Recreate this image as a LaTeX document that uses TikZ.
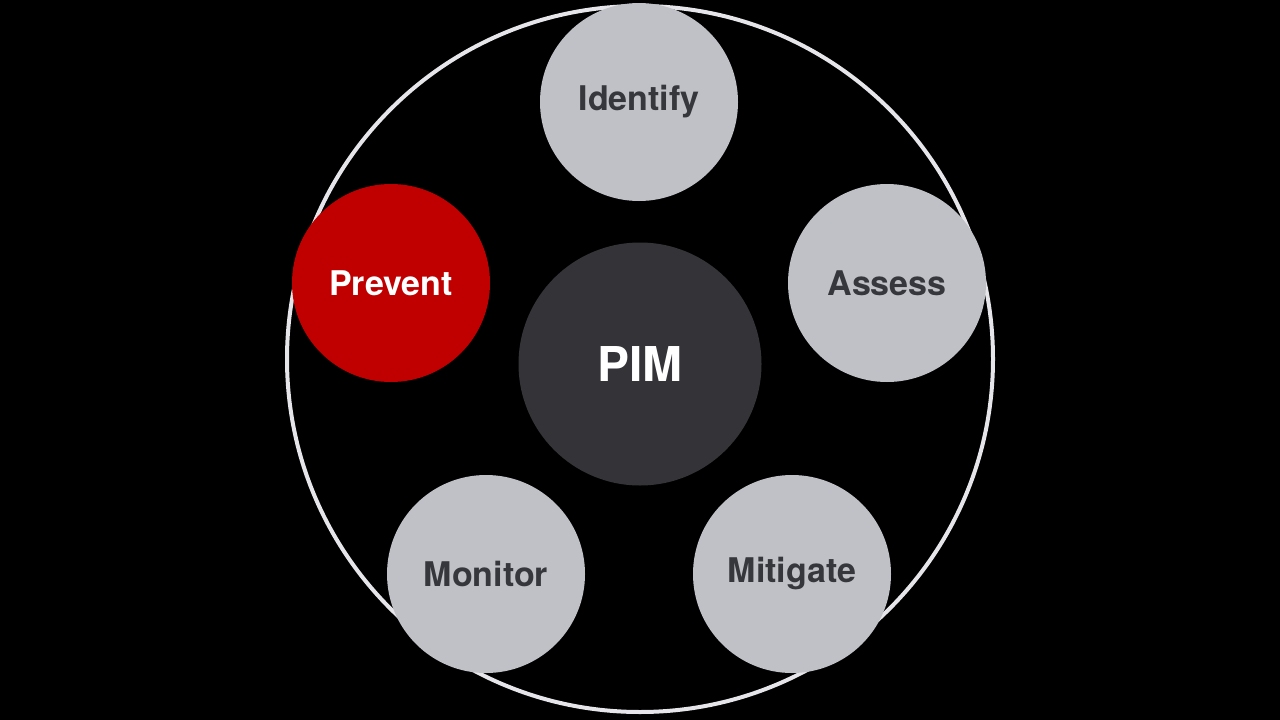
\documentclass[tikz,border=0pt]{standalone}
\usepackage{fontspec}
\setmainfont{TeX Gyre Heros}
\definecolor{ringgray}{HTML}{E6E6EA}
\definecolor{stepgray}{HTML}{C0C1C6}
\definecolor{pimgray}{HTML}{333338}
\definecolor{textgray}{HTML}{36363D}
\definecolor{preventred}{HTML}{C00000}
\begin{document}
\begin{tikzpicture}[x=1pt,y=-1pt,
  every node/.style={circle,inner sep=0pt,font=\bfseries\fontsize{34}{40}\selectfont},
  stepnode/.style={fill=stepgray,text=textgray,minimum size=198pt}]
\fill[black] (0,0) rectangle (1280,720);
\useasboundingbox (0,0) rectangle (1280,720);
% outer ring
\draw[ringgray,line width=4pt] (640,359) circle (353);
% centre
\node(pim)[fill=pimgray,text=white,minimum size=243pt,font=\bfseries\fontsize{48}{56}\selectfont] at (640,364) {PIM};
% steps
\node(identify)[stepnode] at (639,102) {Identify};
\node(assess)[stepnode] at (887,283) {Assess};
\node(mitigate)[stepnode] at (792,574) {Mitigate};
\node(monitor)[stepnode] at (486,574) {Monitor};
\node(prevent)[stepnode,fill=preventred,text=white] at (391,283) {Prevent};
\end{tikzpicture}
\end{document}
